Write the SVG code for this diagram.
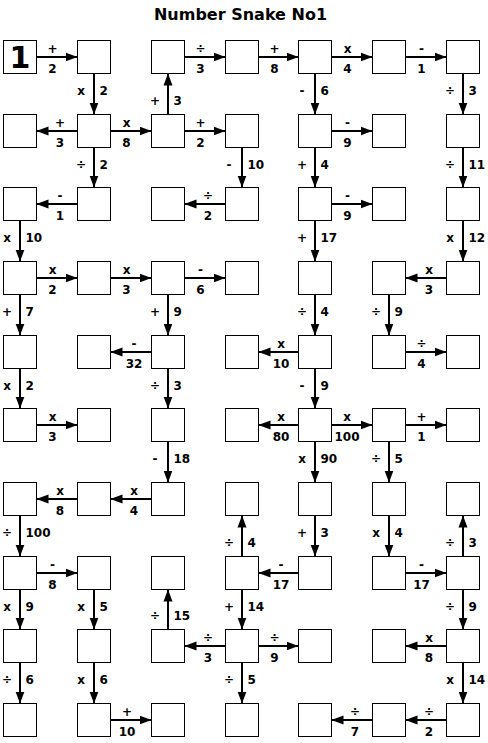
<svg xmlns="http://www.w3.org/2000/svg" width="488" height="743" viewBox="0 0 488 743">
<style>
.box{fill:#fff;stroke:#000;stroke-width:1}
.c line{stroke:#000;stroke-width:2;marker-end:url(#ah)}
text{font-family:"DejaVu Sans","Liberation Sans",sans-serif;font-weight:bold;font-size:12px;fill:#000}
.h{text-anchor:middle}
.op{text-anchor:middle}
.n{text-anchor:start}
.title{font-size:16px;text-anchor:middle}
.big{font-size:30px;text-anchor:middle}
</style>
<defs>
<marker id="ah" markerUnits="userSpaceOnUse" markerWidth="12" markerHeight="10" viewBox="0 0 12 10" refX="12" refY="5" orient="auto">
<path d="M0,0.5 L12,5 L0,9.5 z" fill="#000"/>
</marker>
</defs>
<rect width="488" height="743" fill="#fff"/>
<text class="title" x="240.5" y="20">Number Snake No1</text>
<g id="nodes">
<g id="n0-0"><rect class="box" x="3.5" y="40.5" width="33" height="33"/><text class="big" x="20" y="68">1</text></g>
<g id="n0-1"><rect class="box" x="77.5" y="40.5" width="33" height="33"/></g>
<g id="n0-2"><rect class="box" x="151.5" y="40.5" width="33" height="33"/></g>
<g id="n0-3"><rect class="box" x="225.5" y="40.5" width="33" height="33"/></g>
<g id="n0-4"><rect class="box" x="298.5" y="40.5" width="33" height="33"/></g>
<g id="n0-5"><rect class="box" x="372.5" y="40.5" width="33" height="33"/></g>
<g id="n0-6"><rect class="box" x="446.5" y="40.5" width="33" height="33"/></g>
<g id="n1-0"><rect class="box" x="3.5" y="114.5" width="33" height="33"/></g>
<g id="n1-1"><rect class="box" x="77.5" y="114.5" width="33" height="33"/></g>
<g id="n1-2"><rect class="box" x="151.5" y="114.5" width="33" height="33"/></g>
<g id="n1-3"><rect class="box" x="225.5" y="114.5" width="33" height="33"/></g>
<g id="n1-4"><rect class="box" x="298.5" y="114.5" width="33" height="33"/></g>
<g id="n1-5"><rect class="box" x="372.5" y="114.5" width="33" height="33"/></g>
<g id="n1-6"><rect class="box" x="446.5" y="114.5" width="33" height="33"/></g>
<g id="n2-0"><rect class="box" x="3.5" y="187.5" width="33" height="33"/></g>
<g id="n2-1"><rect class="box" x="77.5" y="187.5" width="33" height="33"/></g>
<g id="n2-2"><rect class="box" x="151.5" y="187.5" width="33" height="33"/></g>
<g id="n2-3"><rect class="box" x="225.5" y="187.5" width="33" height="33"/></g>
<g id="n2-4"><rect class="box" x="298.5" y="187.5" width="33" height="33"/></g>
<g id="n2-5"><rect class="box" x="372.5" y="187.5" width="33" height="33"/></g>
<g id="n2-6"><rect class="box" x="446.5" y="187.5" width="33" height="33"/></g>
<g id="n3-0"><rect class="box" x="3.5" y="261.5" width="33" height="33"/></g>
<g id="n3-1"><rect class="box" x="77.5" y="261.5" width="33" height="33"/></g>
<g id="n3-2"><rect class="box" x="151.5" y="261.5" width="33" height="33"/></g>
<g id="n3-3"><rect class="box" x="225.5" y="261.5" width="33" height="33"/></g>
<g id="n3-4"><rect class="box" x="298.5" y="261.5" width="33" height="33"/></g>
<g id="n3-5"><rect class="box" x="372.5" y="261.5" width="33" height="33"/></g>
<g id="n3-6"><rect class="box" x="446.5" y="261.5" width="33" height="33"/></g>
<g id="n4-0"><rect class="box" x="3.5" y="335.5" width="33" height="33"/></g>
<g id="n4-1"><rect class="box" x="77.5" y="335.5" width="33" height="33"/></g>
<g id="n4-2"><rect class="box" x="151.5" y="335.5" width="33" height="33"/></g>
<g id="n4-3"><rect class="box" x="225.5" y="335.5" width="33" height="33"/></g>
<g id="n4-4"><rect class="box" x="298.5" y="335.5" width="33" height="33"/></g>
<g id="n4-5"><rect class="box" x="372.5" y="335.5" width="33" height="33"/></g>
<g id="n4-6"><rect class="box" x="446.5" y="335.5" width="33" height="33"/></g>
<g id="n5-0"><rect class="box" x="3.5" y="408.5" width="33" height="33"/></g>
<g id="n5-1"><rect class="box" x="77.5" y="408.5" width="33" height="33"/></g>
<g id="n5-2"><rect class="box" x="151.5" y="408.5" width="33" height="33"/></g>
<g id="n5-3"><rect class="box" x="225.5" y="408.5" width="33" height="33"/></g>
<g id="n5-4"><rect class="box" x="298.5" y="408.5" width="33" height="33"/></g>
<g id="n5-5"><rect class="box" x="372.5" y="408.5" width="33" height="33"/></g>
<g id="n5-6"><rect class="box" x="446.5" y="408.5" width="33" height="33"/></g>
<g id="n6-0"><rect class="box" x="3.5" y="482.5" width="33" height="33"/></g>
<g id="n6-1"><rect class="box" x="77.5" y="482.5" width="33" height="33"/></g>
<g id="n6-2"><rect class="box" x="151.5" y="482.5" width="33" height="33"/></g>
<g id="n6-3"><rect class="box" x="225.5" y="482.5" width="33" height="33"/></g>
<g id="n6-4"><rect class="box" x="298.5" y="482.5" width="33" height="33"/></g>
<g id="n6-5"><rect class="box" x="372.5" y="482.5" width="33" height="33"/></g>
<g id="n6-6"><rect class="box" x="446.5" y="482.5" width="33" height="33"/></g>
<g id="n7-0"><rect class="box" x="3.5" y="556.5" width="33" height="33"/></g>
<g id="n7-1"><rect class="box" x="77.5" y="556.5" width="33" height="33"/></g>
<g id="n7-2"><rect class="box" x="151.5" y="556.5" width="33" height="33"/></g>
<g id="n7-3"><rect class="box" x="225.5" y="556.5" width="33" height="33"/></g>
<g id="n7-4"><rect class="box" x="298.5" y="556.5" width="33" height="33"/></g>
<g id="n7-5"><rect class="box" x="372.5" y="556.5" width="33" height="33"/></g>
<g id="n7-6"><rect class="box" x="446.5" y="556.5" width="33" height="33"/></g>
<g id="n8-0"><rect class="box" x="3.5" y="629.5" width="33" height="33"/></g>
<g id="n8-1"><rect class="box" x="77.5" y="629.5" width="33" height="33"/></g>
<g id="n8-2"><rect class="box" x="151.5" y="629.5" width="33" height="33"/></g>
<g id="n8-3"><rect class="box" x="225.5" y="629.5" width="33" height="33"/></g>
<g id="n8-4"><rect class="box" x="298.5" y="629.5" width="33" height="33"/></g>
<g id="n8-5"><rect class="box" x="372.5" y="629.5" width="33" height="33"/></g>
<g id="n8-6"><rect class="box" x="446.5" y="629.5" width="33" height="33"/></g>
<g id="n9-0"><rect class="box" x="3.5" y="703.5" width="33" height="33"/></g>
<g id="n9-1"><rect class="box" x="77.5" y="703.5" width="33" height="33"/></g>
<g id="n9-2"><rect class="box" x="151.5" y="703.5" width="33" height="33"/></g>
<g id="n9-3"><rect class="box" x="225.5" y="703.5" width="33" height="33"/></g>
<g id="n9-4"><rect class="box" x="298.5" y="703.5" width="33" height="33"/></g>
<g id="n9-5"><rect class="box" x="372.5" y="703.5" width="33" height="33"/></g>
<g id="n9-6"><rect class="box" x="446.5" y="703.5" width="33" height="33"/></g>
</g>
<g id="connectors" class="c">
<!-- row 0 -->
<g><line x1="36.5" y1="57" x2="77.5" y2="57"/><text class="h" x="52.5" y="53">+</text><text class="h" x="52.5" y="73">2</text></g>
<g><line x1="184.5" y1="57" x2="225.5" y2="57"/><text class="h" x="200.5" y="53">÷</text><text class="h" x="200.5" y="73">3</text></g>
<g><line x1="258.5" y1="57" x2="298.5" y2="57"/><text class="h" x="274.5" y="53">+</text><text class="h" x="274.5" y="73">8</text></g>
<g><line x1="331.5" y1="57" x2="372.5" y2="57"/><text class="h" x="347.5" y="53">x</text><text class="h" x="347.5" y="73">4</text></g>
<g><line x1="405.5" y1="57" x2="446.5" y2="57"/><text class="h" x="421.5" y="53">-</text><text class="h" x="421.5" y="73">1</text></g>
<!-- v 0-1 -->
<g><line x1="94" y1="73.5" x2="94" y2="114.5"/><text class="op" x="81" y="94.5">x</text><text class="n" x="99.5" y="94.5">2</text></g>
<g><line x1="168" y1="114.5" x2="168" y2="73.5"/><text class="op" x="155" y="105">+</text><text class="n" x="173.5" y="105">3</text></g>
<g><line x1="315" y1="73.5" x2="315" y2="114.5"/><text class="op" x="302" y="94.5">-</text><text class="n" x="320.5" y="94.5">6</text></g>
<g><line x1="463" y1="73.5" x2="463" y2="114.5"/><text class="op" x="450" y="94.5">÷</text><text class="n" x="468.5" y="94.5">3</text></g>
<!-- row 1 -->
<g><line x1="77.5" y1="131" x2="36.5" y2="131"/><text class="h" x="60" y="127">+</text><text class="h" x="60" y="147">3</text></g>
<g><line x1="110.5" y1="131" x2="151.5" y2="131"/><text class="h" x="126.5" y="127">x</text><text class="h" x="126.5" y="147">8</text></g>
<g><line x1="184.5" y1="131" x2="225.5" y2="131"/><text class="h" x="200.5" y="127">+</text><text class="h" x="200.5" y="147">2</text></g>
<g><line x1="331.5" y1="131" x2="372.5" y2="131"/><text class="h" x="347.5" y="127">-</text><text class="h" x="347.5" y="147">9</text></g>
<!-- v 1-2 -->
<g><line x1="94" y1="147.5" x2="94" y2="187.5"/><text class="op" x="81" y="168.5">÷</text><text class="n" x="99.5" y="168.5">2</text></g>
<g><line x1="242" y1="147.5" x2="242" y2="187.5"/><text class="op" x="229" y="168.5">-</text><text class="n" x="247.5" y="168.5">10</text></g>
<g><line x1="315" y1="147.5" x2="315" y2="187.5"/><text class="op" x="302" y="168.5">+</text><text class="n" x="320.5" y="168.5">4</text></g>
<g><line x1="463" y1="147.5" x2="463" y2="187.5"/><text class="op" x="450" y="168.5">÷</text><text class="n" x="468.5" y="168.5">11</text></g>
<!-- row 2 -->
<g><line x1="77.5" y1="204" x2="36.5" y2="204"/><text class="h" x="60" y="200">-</text><text class="h" x="60" y="220">1</text></g>
<g><line x1="225.5" y1="204" x2="184.5" y2="204"/><text class="h" x="208" y="200">÷</text><text class="h" x="208" y="220">2</text></g>
<g><line x1="331.5" y1="204" x2="372.5" y2="204"/><text class="h" x="347.5" y="200">-</text><text class="h" x="347.5" y="220">9</text></g>
<!-- v 2-3 -->
<g><line x1="20" y1="220.5" x2="20" y2="261.5"/><text class="op" x="7" y="241.5">x</text><text class="n" x="25.5" y="241.5">10</text></g>
<g><line x1="315" y1="220.5" x2="315" y2="261.5"/><text class="op" x="302" y="241.5">+</text><text class="n" x="320.5" y="241.5">17</text></g>
<g><line x1="463" y1="220.5" x2="463" y2="261.5"/><text class="op" x="450" y="241.5">x</text><text class="n" x="468.5" y="241.5">12</text></g>
<!-- row 3 -->
<g><line x1="36.5" y1="278" x2="77.5" y2="278"/><text class="h" x="52.5" y="274">x</text><text class="h" x="52.5" y="294">2</text></g>
<g><line x1="110.5" y1="278" x2="151.5" y2="278"/><text class="h" x="126.5" y="274">x</text><text class="h" x="126.5" y="294">3</text></g>
<g><line x1="184.5" y1="278" x2="225.5" y2="278"/><text class="h" x="200.5" y="274">-</text><text class="h" x="200.5" y="294">6</text></g>
<g><line x1="446.5" y1="278" x2="405.5" y2="278"/><text class="h" x="429" y="274">x</text><text class="h" x="429" y="294">3</text></g>
<!-- v 3-4 -->
<g><line x1="20" y1="294.5" x2="20" y2="335.5"/><text class="op" x="7" y="315.5">+</text><text class="n" x="25.5" y="315.5">7</text></g>
<g><line x1="168" y1="294.5" x2="168" y2="335.5"/><text class="op" x="155" y="315.5">+</text><text class="n" x="173.5" y="315.5">9</text></g>
<g><line x1="315" y1="294.5" x2="315" y2="335.5"/><text class="op" x="302" y="315.5">÷</text><text class="n" x="320.5" y="315.5">4</text></g>
<g><line x1="389" y1="294.5" x2="389" y2="335.5"/><text class="op" x="376" y="315.5">÷</text><text class="n" x="394.5" y="315.5">9</text></g>
<!-- row 4 -->
<g><line x1="151.5" y1="352" x2="110.5" y2="352"/><text class="h" x="134" y="348">-</text><text class="h" x="134" y="368">32</text></g>
<g><line x1="298.5" y1="352" x2="258.5" y2="352"/><text class="h" x="281" y="348">x</text><text class="h" x="281" y="368">10</text></g>
<g><line x1="405.5" y1="352" x2="446.5" y2="352"/><text class="h" x="421.5" y="348">÷</text><text class="h" x="421.5" y="368">4</text></g>
<!-- v 4-5 -->
<g><line x1="20" y1="368.5" x2="20" y2="408.5"/><text class="op" x="7" y="389.5">x</text><text class="n" x="25.5" y="389.5">2</text></g>
<g><line x1="168" y1="368.5" x2="168" y2="408.5"/><text class="op" x="155" y="389.5">÷</text><text class="n" x="173.5" y="389.5">3</text></g>
<g><line x1="315" y1="368.5" x2="315" y2="408.5"/><text class="op" x="302" y="389.5">-</text><text class="n" x="320.5" y="389.5">9</text></g>
<!-- row 5 -->
<g><line x1="36.5" y1="425" x2="77.5" y2="425"/><text class="h" x="52.5" y="421">x</text><text class="h" x="52.5" y="441">3</text></g>
<g><line x1="298.5" y1="425" x2="258.5" y2="425"/><text class="h" x="281" y="421">x</text><text class="h" x="281" y="441">80</text></g>
<g><line x1="331.5" y1="425" x2="372.5" y2="425"/><text class="h" x="347" y="421">x</text><text class="h" x="347" y="441">100</text></g>
<g><line x1="405.5" y1="425" x2="446.5" y2="425"/><text class="h" x="421.5" y="421">+</text><text class="h" x="421.5" y="441">1</text></g>
<!-- v 5-6 -->
<g><line x1="168" y1="441.5" x2="168" y2="482.5"/><text class="op" x="155" y="462.5">-</text><text class="n" x="173.5" y="462.5">18</text></g>
<g><line x1="315" y1="441.5" x2="315" y2="482.5"/><text class="op" x="302" y="462.5">x</text><text class="n" x="320.5" y="462.5">90</text></g>
<g><line x1="389" y1="441.5" x2="389" y2="482.5"/><text class="op" x="376" y="462.5">÷</text><text class="n" x="394.5" y="462.5">5</text></g>
<!-- row 6 -->
<g><line x1="77.5" y1="499" x2="36.5" y2="499"/><text class="h" x="60" y="495">x</text><text class="h" x="60" y="515">8</text></g>
<g><line x1="151.5" y1="499" x2="110.5" y2="499"/><text class="h" x="134" y="495">x</text><text class="h" x="134" y="515">4</text></g>
<!-- v 6-7 -->
<g><line x1="20" y1="515.5" x2="20" y2="556.5"/><text class="op" x="7" y="536.5">÷</text><text class="n" x="25.5" y="536.5">100</text></g>
<g><line x1="242" y1="556.5" x2="242" y2="515.5"/><text class="op" x="229" y="547">÷</text><text class="n" x="247.5" y="547">4</text></g>
<g><line x1="315" y1="515.5" x2="315" y2="556.5"/><text class="op" x="302" y="536.5">+</text><text class="n" x="320.5" y="536.5">3</text></g>
<g><line x1="389" y1="515.5" x2="389" y2="556.5"/><text class="op" x="376" y="536.5">x</text><text class="n" x="394.5" y="536.5">4</text></g>
<g><line x1="463" y1="556.5" x2="463" y2="515.5"/><text class="op" x="450" y="547">÷</text><text class="n" x="468.5" y="547">3</text></g>
<!-- row 7 -->
<g><line x1="36.5" y1="573" x2="77.5" y2="573"/><text class="h" x="52.5" y="569">-</text><text class="h" x="52.5" y="589">8</text></g>
<g><line x1="298.5" y1="573" x2="258.5" y2="573"/><text class="h" x="281" y="569">-</text><text class="h" x="281" y="589">17</text></g>
<g><line x1="405.5" y1="573" x2="446.5" y2="573"/><text class="h" x="421.5" y="569">-</text><text class="h" x="421.5" y="589">17</text></g>
<!-- v 7-8 -->
<g><line x1="20" y1="589.5" x2="20" y2="629.5"/><text class="op" x="7" y="610.5">x</text><text class="n" x="25.5" y="610.5">9</text></g>
<g><line x1="94" y1="589.5" x2="94" y2="629.5"/><text class="op" x="81" y="610.5">x</text><text class="n" x="99.5" y="610.5">5</text></g>
<g><line x1="168" y1="629.5" x2="168" y2="589.5"/><text class="op" x="155" y="620">÷</text><text class="n" x="173.5" y="620">15</text></g>
<g><line x1="242" y1="589.5" x2="242" y2="629.5"/><text class="op" x="229" y="610.5">+</text><text class="n" x="247.5" y="610.5">14</text></g>
<g><line x1="463" y1="589.5" x2="463" y2="629.5"/><text class="op" x="450" y="610.5">÷</text><text class="n" x="468.5" y="610.5">9</text></g>
<!-- row 8 -->
<g><line x1="225.5" y1="646" x2="184.5" y2="646"/><text class="h" x="208" y="642">÷</text><text class="h" x="208" y="662">3</text></g>
<g><line x1="258.5" y1="646" x2="298.5" y2="646"/><text class="h" x="274.5" y="642">÷</text><text class="h" x="274.5" y="662">9</text></g>
<g><line x1="446.5" y1="646" x2="405.5" y2="646"/><text class="h" x="429" y="642">x</text><text class="h" x="429" y="662">8</text></g>
<!-- v 8-9 -->
<g><line x1="20" y1="662.5" x2="20" y2="703.5"/><text class="op" x="7" y="683.5">÷</text><text class="n" x="25.5" y="683.5">6</text></g>
<g><line x1="94" y1="662.5" x2="94" y2="703.5"/><text class="op" x="81" y="683.5">x</text><text class="n" x="99.5" y="683.5">6</text></g>
<g><line x1="242" y1="662.5" x2="242" y2="703.5"/><text class="op" x="229" y="683.5">÷</text><text class="n" x="247.5" y="683.5">5</text></g>
<g><line x1="463" y1="662.5" x2="463" y2="703.5"/><text class="op" x="450" y="683.5">x</text><text class="n" x="468.5" y="683.5">14</text></g>
<!-- row 9 -->
<g><line x1="110.5" y1="720" x2="151.5" y2="720"/><text class="h" x="127" y="716">+</text><text class="h" x="127" y="736">10</text></g>
<g><line x1="446.5" y1="720" x2="405.5" y2="720"/><text class="h" x="429" y="716">÷</text><text class="h" x="429" y="736">2</text></g>
<g><line x1="372.5" y1="720" x2="331.5" y2="720"/><text class="h" x="355" y="716">÷</text><text class="h" x="355" y="736">7</text></g>
</g>
</svg>
